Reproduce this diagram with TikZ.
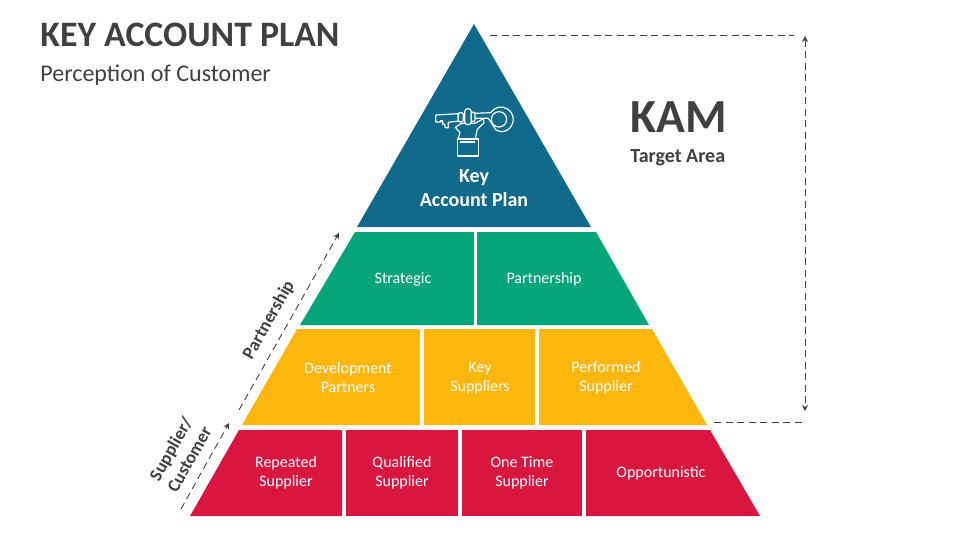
\documentclass[tikz,border=0pt]{standalone}
\usepackage{fontspec}
\setmainfont{Carlito}
\usetikzlibrary{%
  arrows,%
  arrows.meta,%
  positioning,% wg. " of "
  calc
}
\definecolor{kamteal}{HTML}{0F6A8B}
\definecolor{kamgreen}{HTML}{07A57A}
\definecolor{kamyellow}{HTML}{FFB60D}
\definecolor{kamred}{HTML}{D8163F}
\definecolor{kamgrey}{HTML}{404040}

\begin{document}
\begin{tikzpicture}
[x=1pt, y=-1pt, line width=0.9pt, >=stealth',
cell/.style={inner sep=0pt, align=center, text=white, font=\fontsize{16}{19}\selectfont},
bigcell/.style={inner sep=0pt, align=center, text=white, font=\fontsize{20}{24}\selectfont\bfseries},
side/.style={inner sep=0pt, align=center, text=kamgrey, rotate=60.5, font=\fontsize{18}{21}\selectfont\bfseries},
dim/.style={draw=kamgrey, line width=0.9pt, dash pattern=on 7pt off 4.5pt},
dimarrow/.style={dim, {Stealth[length=6pt,width=6pt,fill=kamgrey]}-{Stealth[length=6pt,width=6pt,fill=kamgrey]}},
uparrow/.style={dim, -{Stealth[length=6pt,width=6pt,fill=kamgrey]}},
icon/.style={draw=white, line width=1.2pt, line join=round, fill=kamteal}]

\useasboundingbox (0,0) rectangle (960,540);

% pyramid
\fill[kamteal] (474,24) -- (591,227) -- (357,227) -- cycle;

\fill[kamgreen] (355,232) -- (474,232) -- (474,325) -- (300,325) -- cycle;
\fill[kamgreen] (477,232) -- (596,232) -- (649,325) -- (477,325) -- cycle;

\fill[kamyellow] (297,329) -- (420,329) -- (420,425) -- (242,425) -- cycle;
\fill[kamyellow] (424,329) -- (535,329) -- (535,425) -- (424,425) -- cycle;
\fill[kamyellow] (539,329) -- (652,329) -- (707,425) -- (539,425) -- cycle;

\fill[kamred] (239,430) -- (342,430) -- (342,516) -- (190,516) -- cycle;
\fill[kamred] (346,430) -- (458,430) -- (458,516) -- (346,516) -- cycle;
\fill[kamred] (462,430) -- (582,430) -- (582,516) -- (462,516) -- cycle;
\fill[kamred] (586,430) -- (710,430) -- (760,516) -- (586,516) -- cycle;

% texts
\node[anchor=west, inner sep=0pt, text=kamgrey, font=\fontsize{35.8}{40}\selectfont\bfseries] (title) at (40,35) {KEY ACCOUNT PLAN};
\node[anchor=west, inner sep=0pt, text=kamgrey, font=\fontsize{24}{28}\selectfont] (subtitle) at (40,75) {Perception of Customer};
\node[anchor=west, inner sep=0pt, text=kamgrey, font=\fontsize{47.5}{54}\selectfont\bfseries] (kam) at (630,117) {KAM};
\node[anchor=west, inner sep=0pt, text=kamgrey, font=\fontsize{20}{22}\selectfont\bfseries] (target) at (630,158) {Target Area};

\node[bigcell] (keyplan) at (474,188) {Key\\Account Plan};

\node[cell] (strategic) at (403,279) {Strategic};
\node[cell] (partnership) at (544,279) {Partnership};

\node[cell] (devpartners) at (348,378) {Development\\Partners};
\node[cell] (keysuppliers) at (480,378) {Key\\Suppliers};
\node[cell] (performed) at (606,378) {Performed\\Supplier};

\node[cell] (repeated) at (286,473) {Repeated\\Supplier};
\node[cell] (qualified) at (402,473) {Qualified\\Supplier};
\node[cell] (onetime) at (522,473) {One Time\\Supplier};
\node[cell] (opportunistic) at (661,473) {Opportunistic};

\node[side] (sidepartner) at (269,320) {Partnership};
\node[side] (sidesupplier) at (180,454) {Supplier/\\Customer};

% dimension lines
\coordinate (apexend) at (490,35);
\coordinate (apexstop) at (794,35);
\coordinate (baseend) at (714,422);
\coordinate (basestop) at (806,422);
\coordinate (dimtop) at (805,36);
\coordinate (dimbot) at (805,411);
\coordinate (partstart) at (239,410);
\coordinate (partstop) at (339,233);
\coordinate (suppstart) at (181,509);
\coordinate (suppstop) at (229,423);

\draw[dim] (apexend) -- (apexstop);
\draw[dim] (baseend) -- (basestop);
\draw[dimarrow] (dimtop) -- (dimbot);
\draw[uparrow] (partstart) -- (partstop);
\draw[uparrow] (suppstart) -- (suppstop);

% key icon
\begin{scope}[shift={(420,90)}, x=0.3333pt, y=-0.3333pt]
\draw[icon] (47,75) -- (115,71) -- (115,93) -- (85,97) -- (85,113) -- (76,113) -- (74,103) -- (68,103) -- (68,92) -- (62,92) -- (62,96) -- (47,96) -- cycle;
\draw[icon] (113,150) -- (120,128) -- (106,112) -- (125,100) -- (165,100) -- (190,86) -- (192,98) -- (172,118) -- (165,150);
\draw[icon, fill=none] (165,70) -- (212,68) arc[start angle=-147, end angle=90, radius=37] -- (228,120) -- (205,85) -- (165,85);
\draw[icon, fill=none] (237,88) circle[radius=23];
\draw[icon, rounded corners=2pt] (115,68) rectangle (130,96);
\draw[icon, rounded corners=3pt] (134,56) rectangle (154,104);
\draw[icon, rounded corners=2pt] (154,66) rectangle (165,95);
\draw[icon] (112,147) rectangle (175,198);
\draw[icon] (120,156) -- (165,156);
\end{scope}
\end{tikzpicture}
\end{document}
